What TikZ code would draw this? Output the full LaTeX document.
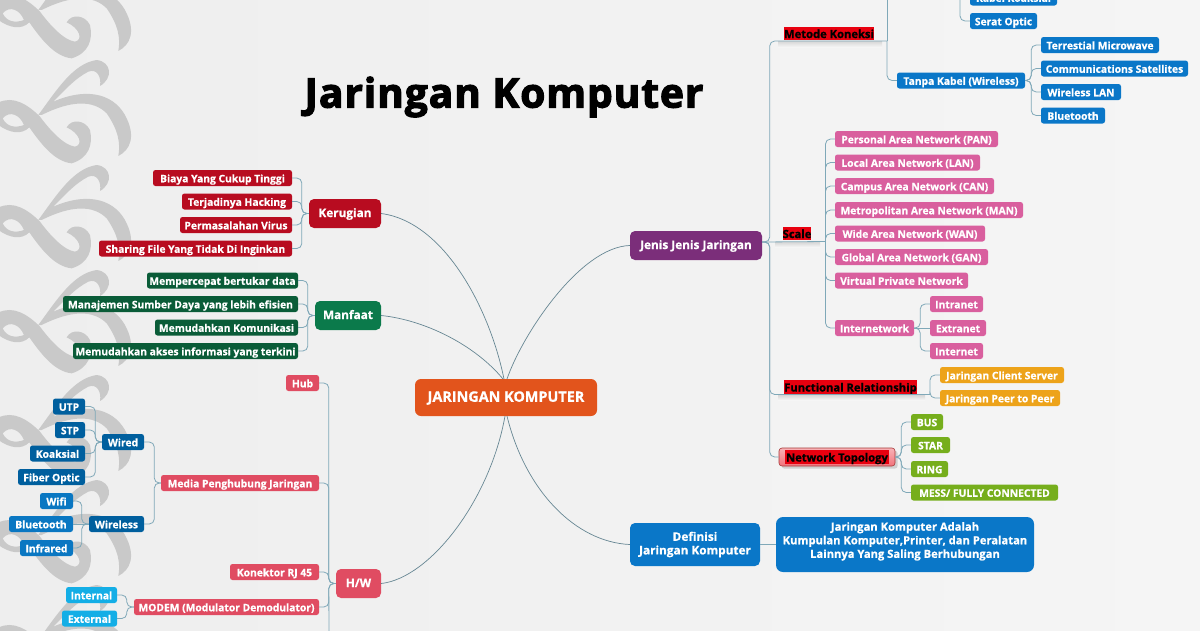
\documentclass[tikz,border=0pt]{standalone}
\usepackage{fontspec}
\usepackage{xcolor}
\setmainfont{Open Sans}[BoldFeatures={FakeBold=0.7}]
\newfontfamily\titlefont{Open Sans}[BoldFeatures={FakeBold=3}, LetterSpace=2.5]
\usetikzlibrary{positioning,shadows}

\definecolor{paperl}{HTML}{EEEEEE}
\definecolor{paperr}{HTML}{F5F5F5}
\definecolor{swirlgray}{HTML}{C9C9C9}
\definecolor{branchline}{HTML}{7FA8B8}
\definecolor{rootorange}{HTML}{E2541C}
\definecolor{lossred}{HTML}{B80C20}
\definecolor{gainmid}{HTML}{0B7A4B}
\definecolor{gaindark}{HTML}{0A5C38}
\definecolor{hwred}{HTML}{E04C62}
\definecolor{wiredblue}{HTML}{005F9E}
\definecolor{wifiblue}{HTML}{0A77C2}
\definecolor{modemblue}{HTML}{14AEE6}
\definecolor{jenispurple}{HTML}{7B2E7A}
\definecolor{defblue}{HTML}{0A77C8}
\definecolor{scalepink}{HTML}{D95F9E}
\definecolor{relorange}{HTML}{EDA31A}
\definecolor{topogreen}{HTML}{76AE1C}
\definecolor{markred}{HTML}{E8000F}
\definecolor{paleedge}{HTML}{A83A3A}

\tikzset{
    kid/.style={rounded corners=2.5pt, text=white, font=\fontsize{10.3}{12}\selectfont\bfseries,
        minimum height=16, inner sep=0pt, text height=8.5pt, text depth=0pt},
    topic/.style={rounded corners=5pt, text=white, font=\fontsize{11.8}{14}\selectfont\bfseries,
        minimum height=29, inner sep=0pt, text height=7pt, text depth=0pt},
    block/.style={rounded corners=5pt, text=white, font=\fontsize{11.8}{13.6}\selectfont\bfseries,
        inner sep=0pt, align=center},
    marked/.style={fill=markred, text=black, font=\fontsize{11.2}{12}\selectfont\bfseries,
        inner sep=0pt, minimum height=13.5, text height=9pt, text depth=0pt},
    underglow/.style={top color=black!16, bottom color=paperr},
    branch/.style={draw=branchline, line width=0.8pt, rounded corners=5pt},
    curve/.style={draw=branchline!80!black, line width=0.7pt}
}

% one ornament of the background, drawn in thirds of a pixel
\newcommand{\swirl}[1]{
    \begin{scope}[shift={(0,#1)}, x=0.3333pt, y=-0.3333pt]
        \fill [swirlgray, even odd rule] (-5,158) .. controls (40,135) and (85,165) .. (120,200)
            .. controls (150,240) and (190,285) .. (225,290)
            .. controls (250,285) and (240,250) .. (200,232)
            .. controls (215,205) and (255,210) .. (270,240)
            .. controls (280,285) and (265,325) .. (215,340)
            .. controls (165,335) and (125,285) .. (88,232)
            .. controls (65,255) and (30,250) .. (-5,225) -- cycle
            (8,205) .. controls (30,180) and (60,195) .. (72,225)
            .. controls (45,235) and (20,230) .. (8,205) -- cycle;
        \fill [swirlgray] (115,195) .. controls (170,120) and (220,40) .. (290,30)
            .. controls (335,35) and (340,85) .. (300,108)
            .. controls (305,80) and (290,55) .. (265,65)
            .. controls (225,85) and (190,125) .. (160,155)
            .. controls (250,115) and (335,125) .. (375,195)
            .. controls (410,260) and (390,300) .. (355,318)
            .. controls (362,280) and (355,240) .. (320,190)
            .. controls (280,150) and (215,150) .. (125,195) -- cycle;
    \end{scope}
}

\begin{document}
\begin{tikzpicture}[x=1pt, y=-1pt]
    \clip (0,0) rectangle (1200,630);
    \shade [left color=paperl, right color=paperr] (0,0) rectangle (1200,630);

    % Background
    \swirl{-55}
    \swirl{50}
    \swirl{155}
    \swirl{260}
    \swirl{365}
    \swirl{470}
    \swirl{575}

    % Title
    \node [font=\fontsize{40.5}{44}\titlefont\bfseries, text=black] (title) at (504,97) {Jaringan Komputer};

    % Root
    \node [topic, fill=rootorange, rounded corners=6pt, minimum width=182, minimum height=37,
        text height=8.5pt, font=\fontsize{14.4}{16}\selectfont\bfseries] (root) at (506,397.5) {JARINGAN KOMPUTER};

    % Kerugian
    \node [topic, fill=lossred, minimum width=72] (kerugian) at (345,213.5) {Kerugian};
    \node [kid, fill=lossred, minimum width=139] (biaya) at (222.5,178) {Biaya Yang Cukup Tinggi};
    \node [kid, fill=lossred, minimum width=110] (hacking) at (237,201.5) {Terjadinya Hacking};
    \node [kid, fill=lossred, minimum width=112] (virus) at (236,225) {Permasalahan Virus};
    \node [kid, fill=lossred, minimum width=193] (sharing) at (195.5,248.5) {Sharing File Yang Tidak Di Inginkan};

    % Manfaat
    \node [topic, fill=gainmid, minimum width=66] (manfaat) at (348,315.5) {Manfaat};
    \node [kid, fill=gaindark, minimum width=151] (cepat) at (222.5,280.5) {Mempercepat bertukar data};
    \node [kid, fill=gaindark, minimum width=235] (sumber) at (180.5,304) {Manajemen Sumber Daya yang lebih efisien};
    \node [kid, fill=gaindark, minimum width=143] (komunikasi) at (226.5,327.5) {Memudahkan Komunikasi};
    \node [kid, fill=gaindark, minimum width=225] (akses) at (185.5,351) {Memudahkan akses informasi yang terkini};

    % H/W
    \node [topic, fill=hwred, minimum width=45] (hw) at (358.5,583.5) {H/W};
    \node [kid, fill=hwred, minimum width=33] (hub) at (302.5,383) {Hub};
    \node [kid, fill=hwred, minimum width=158] (media) at (240,483) {Media Penghubung Jaringan};
    \node [kid, fill=hwred, minimum width=89] (rj) at (274.5,572) {Konektor RJ 45};
    \node [kid, fill=hwred, minimum width=185] (modem) at (226.5,607) {MODEM (Modulator Demodulator)};
    \coordinate (hwend) at (329,640);

    \node [kid, fill=wiredblue, minimum width=42] (wired) at (123,442) {Wired};
    \node [kid, fill=wiredblue, minimum width=55] (wireless) at (116.5,524) {Wireless};
    \node [kid, fill=wiredblue, minimum width=32] (utp) at (69,406.5) {UTP};
    \node [kid, fill=wiredblue, minimum width=30] (stp) at (70,430) {STP};
    \node [kid, fill=wiredblue, minimum width=55] (koaksial) at (57.5,453.5) {Koaksial};
    \node [kid, fill=wiredblue, minimum width=67] (fiber) at (51.5,477) {Fiber Optic};
    \node [kid, fill=wifiblue, minimum width=33] (wifi) at (56.5,501) {Wifi};
    \node [kid, fill=wifiblue, minimum width=64] (blue) at (41,524) {Bluetooth};
    \node [kid, fill=wifiblue, minimum width=53] (infrared) at (46.5,548) {Infrared};
    \node [kid, fill=modemblue, minimum width=51] (internal) at (91.5,595) {Internal};
    \node [kid, fill=modemblue, minimum width=55] (external) at (89.5,618.5) {External};

    % Jenis Jenis Jaringan
    \node [topic, fill=jenispurple, minimum width=132] (jenis) at (696,245.5) {Jenis Jenis Jaringan};

    % Metode Koneksi
    \shade [underglow] (778,41) rectangle (882,47);
    \node [marked, minimum width=90] (metode) at (829,33.5) {Metode Koneksi};
    \coordinate (metodehub) at (887,41);
    \coordinate (kabelhub) at (887,-10);
    \coordinate (seratend) at (960,-10);
    \node [kid, fill=defblue, minimum width=87] (kabel) at (1013.5,-2.5) {Kabel Koaksial};
    \node [kid, fill=defblue, minimum width=67] (serat) at (1003.5,21) {Serat Optic};
    \node [kid, fill=defblue, minimum width=128] (tanpa) at (961,80.5) {Tanpa Kabel (Wireless)};
    \node [kid, fill=defblue, minimum width=118] (terrestial) at (1100,45) {Terrestial Microwave};
    \node [kid, fill=defblue, minimum width=147] (satelit) at (1114.5,68.5) {Communications Satellites};
    \node [kid, fill=defblue, minimum width=80] (wlan) at (1081,92) {Wireless LAN};
    \node [kid, fill=defblue, minimum width=64] (tooth) at (1073,115.5) {Bluetooth};

    % Scale
    \shade [underglow] (775,242) rectangle (820,247);
    \node [marked, minimum width=28] (scale) at (797,233.5) {Scale};
    \coordinate (scalehub) at (825.5,241.5);
    \node [kid, fill=scalepink, minimum width=163] (pan) at (916.5,139) {Personal Area Network (PAN)};
    \node [kid, fill=scalepink, minimum width=145] (lan) at (907.5,162.5) {Local Area Network (LAN)};
    \node [kid, fill=scalepink, minimum width=159] (can) at (914.5,186) {Campus Area Network (CAN)};
    \node [kid, fill=scalepink, minimum width=188] (man) at (929,210) {Metropolitan Area Network (MAN)};
    \node [kid, fill=scalepink, minimum width=150] (wan) at (910,233.5) {Wide Area Network (WAN)};
    \node [kid, fill=scalepink, minimum width=153] (gan) at (911.5,257) {Global Area Network (GAN)};
    \node [kid, fill=scalepink, minimum width=133] (vpn) at (901.5,280.5) {Virtual Private Network};
    \node [kid, fill=scalepink, minimum width=79] (inter) at (874.5,328) {Internetwork};
    \node [kid, fill=scalepink, minimum width=53] (intranet) at (956.5,304) {Intranet};
    \node [kid, fill=scalepink, minimum width=56] (extranet) at (958,328) {Extranet};
    \node [kid, fill=scalepink, minimum width=53] (internet) at (956.5,351) {Internet};

    % Functional Relationship
    \shade [underglow] (778,395) rectangle (925,400);
    \node [marked, minimum width=133] (func) at (850.5,387) {Functional Relationship};
    \coordinate (funchub) at (930,394.5);
    \node [kid, fill=relorange, minimum width=124] (client) at (1002,375) {Jaringan Client Server};
    \node [kid, fill=relorange, minimum width=120] (peer) at (1000,398) {Jaringan Peer to Peer};

    % Network Topology
    \node [draw=paleedge, top color=markred!30!white, bottom color=markred!55!white, rounded corners=3pt,
        line width=0.6pt, minimum width=116, minimum height=18, inner sep=0pt,
        drop shadow={opacity=0.3}] (topology) at (837,457) {};
    \node [marked, minimum width=104] (topolabel) at (topology.center) {Network Topology};
    \node [kid, fill=topogreen, minimum width=32] (bus) at (927,422) {BUS};
    \node [kid, fill=topogreen, minimum width=39] (star) at (930.5,445) {STAR};
    \node [kid, fill=topogreen, minimum width=37] (ring) at (929.5,469) {RING};
    \node [kid, fill=topogreen, minimum width=147] (mess) at (984.5,492.5) {MESS/ FULLY CONNECTED};

    % Definisi
    \node [block, fill=defblue, minimum width=130, minimum height=43] (definisi) at (695,544.5)
        {Definisi\\Jaringan Komputer};
    \node [block, fill=defblue, rounded corners=7pt, minimum width=258, minimum height=55,
        font=\fontsize{11.2}{13.6}\selectfont\bfseries] (isi) at (905,544.5)
        {Jaringan Komputer Adalah\\Kumpulan Komputer,Printer, dan Peralatan\\Lainnya Yang Saling Berhubungan\\[-4.6pt]\mbox{}};

    % Curves from the root
    \draw [curve] (kerugian.east) .. controls (445,222) and (490,310) .. (504,379);
    \draw [curve] (manfaat.east) .. controls (425,320) and (475,345) .. (503,379);
    \draw [curve] (hw.east) .. controls (430,578) and (490,500) .. (505,416);
    \draw [curve] (jenis.west) .. controls (580,247) and (522,335) .. (507,379);
    \draw [curve] (definisi.west) .. controls (575,542) and (525,490) .. (507,416);

    % Left branches
    \draw [branch] (kerugian.west) -- ++(-7,0) |- (biaya.east);
    \draw [branch] (kerugian.west) -- ++(-7,0) |- (hacking.east);
    \draw [branch] (kerugian.west) -- ++(-7,0) |- (virus.east);
    \draw [branch] (kerugian.west) -- ++(-7,0) |- (sharing.east);
    \draw [branch] (manfaat.west) -- ++(-7,0) |- (cepat.east);
    \draw [branch] (manfaat.west) -- ++(-7,0) |- (sumber.east);
    \draw [branch] (manfaat.west) -- ++(-7,0) |- (komunikasi.east);
    \draw [branch] (manfaat.west) -- ++(-7,0) |- (akses.east);
    \draw [branch] (hw.west) -- ++(-7,0) |- (hub.east);
    \draw [branch] (hw.west) -- ++(-7,0) |- (media.east);
    \draw [branch] (hw.west) -- ++(-7,0) |- (rj.east);
    \draw [branch] (hw.west) -- ++(-7,0) |- (modem.east);
    \draw [branch] (hw.west) -- ++(-7,0) -- (hwend);
    \draw [branch] (media.west) -- ++(-6.5,0) |- (wired.east);
    \draw [branch] (media.west) -- ++(-6.5,0) |- (wireless.east);
    \draw [branch] (wired.west) -- ++(-6.5,0) |- (utp.east);
    \draw [branch] (wired.west) -- ++(-6.5,0) |- (stp.east);
    \draw [branch] (wired.west) -- ++(-6.5,0) |- (koaksial.east);
    \draw [branch] (wired.west) -- ++(-6.5,0) |- (fiber.east);
    \draw [branch] (wireless.west) -- ++(-7,0) |- (wifi.east);
    \draw [branch] (wireless.west) -- (blue.east);
    \draw [branch] (wireless.west) -- ++(-7,0) |- (infrared.east);
    \draw [branch] (modem.west) -- ++(-7,0) |- (internal.east);
    \draw [branch] (modem.west) -- ++(-7,0) |- (external.east);

    % Right branches
    \draw [branch] (jenis.east) ++(0,-3.5) -- ++(7.5,0) |- (metodehub);
    \draw [branch] (jenis.east) ++(0,-3.5) -- (scalehub);
    \draw [branch] (jenis.east) ++(0,-3.5) -- ++(7.5,0) |- (funchub);
    \draw [branch] (jenis.east) ++(0,-3.5) -- ++(7.5,0) |- (topology.west);
    \draw [branch] (metodehub) -- (kabelhub);
    \draw [branch] (metodehub) |- (tanpa.west);
    \draw [branch] (seratend) |- (serat.west);
    \draw [branch] (tanpa.east) -- ++(6,0) |- (terrestial.west);
    \draw [branch] (tanpa.east) -- ++(6,0) |- (satelit.west);
    \draw [branch] (tanpa.east) -- ++(6,0) |- (wlan.west);
    \draw [branch] (tanpa.east) -- ++(6,0) |- (tooth.west);
    \draw [branch] (scalehub) |- (pan.west);
    \draw [branch] (scalehub) |- (lan.west);
    \draw [branch] (scalehub) |- (can.west);
    \draw [branch] (scalehub) |- (man.west);
    \draw [branch] (scalehub) |- (wan.west);
    \draw [branch] (scalehub) |- (gan.west);
    \draw [branch] (scalehub) |- (vpn.west);
    \draw [branch] (scalehub) |- (inter.west);
    \draw [branch] (inter.east) -- ++(6,0) |- (intranet.west);
    \draw [branch] (inter.east) -- (extranet.west);
    \draw [branch] (inter.east) -- ++(6,0) |- (internet.west);
    \draw [branch] (funchub) |- (client.west);
    \draw [branch] (funchub) |- (peer.west);
    \draw [branch] (topology.east) -- ++(6,0) |- (bus.west);
    \draw [branch] (topology.east) -- ++(6,0) |- (star.west);
    \draw [branch] (topology.east) -- ++(6,0) |- (ring.west);
    \draw [branch] (topology.east) -- ++(6,0) |- (mess.west);
    \draw [branch] (definisi.east) -- (isi.west);
\end{tikzpicture}
\end{document}
